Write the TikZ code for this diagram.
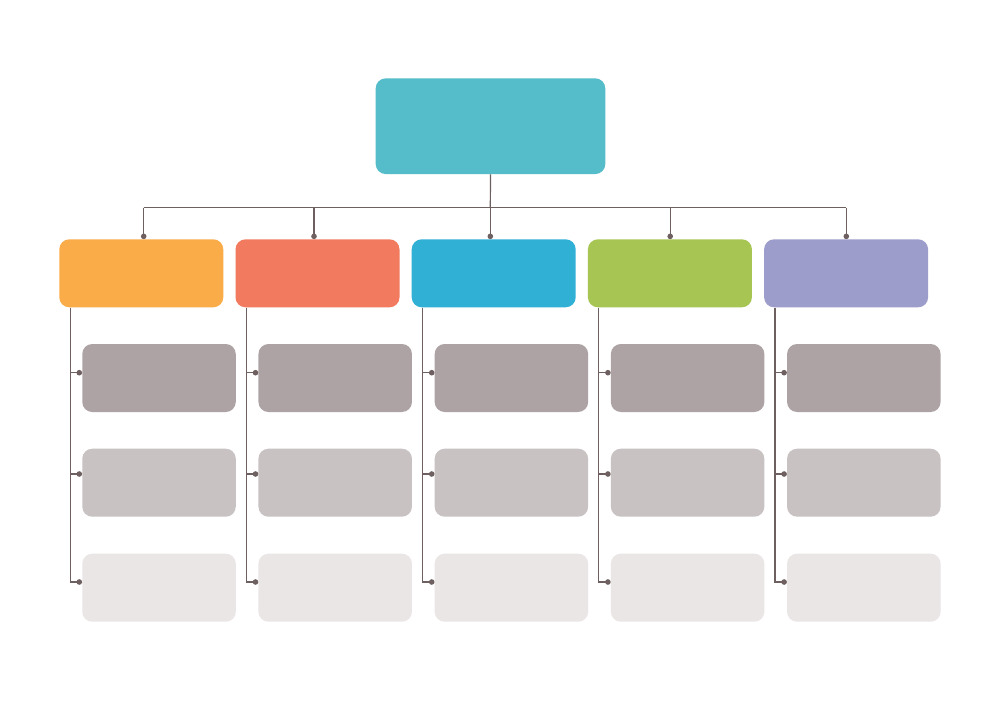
\documentclass[tikz,border=0pt]{standalone}
\usetikzlibrary{arrows.meta,calc}
\definecolor{topc}{HTML}{55BCC9}
\definecolor{orangec}{HTML}{F9AC47}
\definecolor{redc}{HTML}{F27B5F}
\definecolor{bluec}{HTML}{31B0D6}
\definecolor{greenc}{HTML}{A6C553}
\definecolor{purplec}{HTML}{9D9DCC}
\definecolor{grayA}{HTML}{ADA3A4}
\definecolor{grayB}{HTML}{C9C2C3}
\definecolor{grayC}{HTML}{E9E6E5}
\definecolor{linec}{HTML}{6E5F60}
\begin{document}
\begin{tikzpicture}[x=1pt,y=-1pt,
  box/.style={rectangle, rounded corners=10pt, inner sep=0pt, draw=none},
  headbox/.style={box, minimum width=164pt, minimum height=68pt},
  leafbox/.style={box, minimum width=153.5pt, minimum height=68pt},
  link/.style={draw=linec, line width=1.2pt},
  dotend/.style={-{Circle[length=5.5pt,width=5.5pt]}}]
\useasboundingbox (0,0) rectangle (1000,701);
\fill[white] (0,0) rectangle (1000,701);
\node[box, fill=topc, minimum width=229.6pt, minimum height=95.7pt] (top) at (490.5,126.2) {};
\foreach \i/\c/\dx in {0/orangec/2.4, 1/redc/-3.5, 2/bluec/-3.4, 3/greenc/0.3, 4/purplec/0.2}{
  \node[headbox, fill=\c] (h\i) at ({141.3+176.2*\i},273.3) {};
  \coordinate (d\i) at ([xshift=\dx pt]h\i.north);
  \coordinate (v\i) at ([xshift=11pt]h\i.south west);
  \foreach \r/\g/\y/\s in {1/grayA/378/5.3, 2/grayB/482.7/8.7, 3/grayC/587.7/5.7}{
    \node[leafbox, fill=\g] (c\i r\r) at ({159+176.2*\i},\y) {};
    \coordinate (t\i r\r) at ([yshift=\s pt]c\i r\r.west);
  }
}
\coordinate (bus) at (490.3,207.7);
\draw[link] (top.south) -- (bus);
\draw[link] (d0 |- bus) -- (d4 |- bus);
\foreach \i in {0,...,4}{
  \draw[link,dotend] (d\i |- bus) -- (d\i);
  \draw[link,dotend] (v\i) |- (t\i r3);
  \draw[link,dotend] (v\i |- t\i r1) -- (t\i r1);
  \draw[link,dotend] (v\i |- t\i r2) -- (t\i r2);
}
\end{tikzpicture}
\end{document}
